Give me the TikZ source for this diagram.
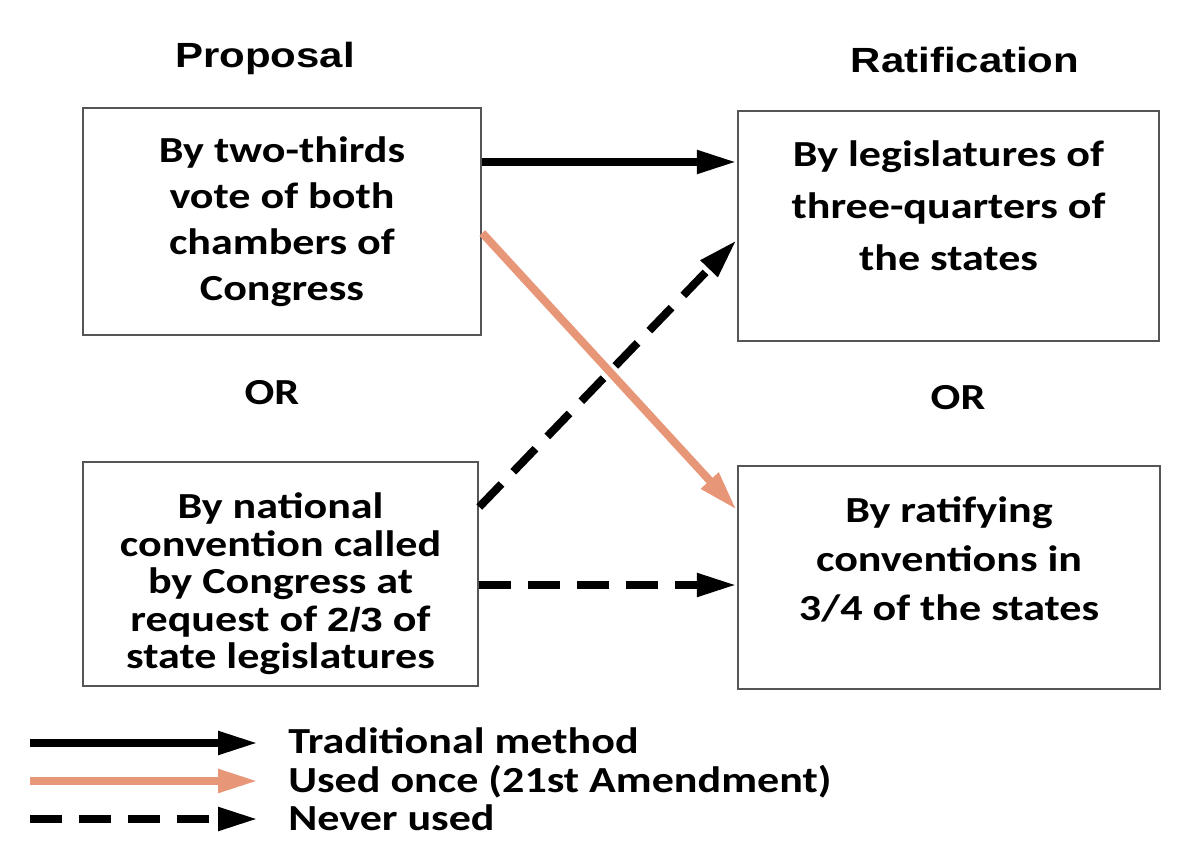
\documentclass[tikz,border=0pt]{standalone}
\usepackage{fontspec}
\usetikzlibrary{arrows.meta}
\newfontfamily\boxfont[FakeStretch=1.2]{Carlito}
\newfontfamily\headfont[FakeStretch=1.2]{Liberation Sans}
\definecolor{salmon}{RGB}{232,150,120}
\definecolor{boxgray}{RGB}{85,85,85}
\begin{document}
\begin{tikzpicture}[
  box/.style={draw=boxgray, line width=0.05cm, inner sep=0pt},
  boxtext/.style={font=\boxfont\bfseries\fontsize{20.9}{#1}\selectfont, align=center, inner sep=0pt},
  head/.style={font=\headfont\bfseries\fontsize{19.9}{24}\selectfont, inner sep=0pt},
  legtext/.style={font=\boxfont\bfseries\fontsize{20.9}{25}\selectfont, inner sep=0pt},
  trad/.style={line width=0.16cm, -{Triangle[length=0.8cm,width=0.44cm]}},
  once/.style={trad, salmon},
  never/.style={trad, dash pattern=on 0.64cm off 0.34cm}]
\fill[white] (0,0) rectangle (24,17.12);

\node[head, anchor=base] (proposal) at (5.3,15.76) {Proposal};
\node[head, anchor=base] (ratification) at (19.3,15.66) {Ratification};

\node[box, minimum width=7.96cm, minimum height=4.54cm] (propcong) at (5.64,12.69) {};
\node[boxtext=26.2] (propcongtext) at (propcong.center) {By two-thirds\\vote of both\\chambers of\\Congress};
\node[box, minimum width=7.9cm, minimum height=4.48cm] (propconv) at (5.61,5.64) {};
\node[boxtext=21.3] (propconvtext) at ([yshift=-0.2cm]propconv.center) {By national\\convention called\\by Congress at\\request of {\headfont\bfseries\fontsize{19}{21.3}\selectfont 2/3} of\\state legislatures};
\node[box, minimum width=8.42cm, minimum height=4.6cm] (ratleg) at (18.97,12.6) {};
\node[boxtext=29.6] (ratlegtext) at ([yshift=0.4cm]ratleg.center) {By legislatures of\\three-quarters of\\the states};
\node[box, minimum width=8.44cm, minimum height=4.46cm] (ratconv) at (18.98,5.57) {};
\node[boxtext=27.9] (ratconvtext) at ([yshift=0.37cm]ratconv.center) {By ratifying\\conventions in\\3/4 of the states};

\node[legtext, anchor=base] (orprop) at (5.44,9.02) {OR};
\node[legtext, anchor=base] (orrat) at (19.16,8.92) {OR};

\draw[trad] ([yshift=1.19cm]propcong.east) -- ([yshift=1.19cm]propcong.east -| ratleg.west);
\draw[once] ([yshift=-0.23cm]propcong.east) -- ([yshift=1.35cm]ratconv.west);
\draw[never] ([yshift=1.34cm]propconv.east) -- ([yshift=-0.28cm]ratleg.west);
\draw[never] ([yshift=-0.22cm]propconv.east) -- ([yshift=-0.22cm]propconv.east -| ratconv.west);

\node[legtext, anchor=base west] (legtrad) at (5.76,2.06) {Traditional method};
\node[legtext, anchor=base west] (legonce) at (5.76,1.28) {Used once (21st Amendment)};
\node[legtext, anchor=base west] (legnever) at (5.76,0.52) {Never used};
\coordinate (legtradstart) at (0.6,2.26);
\coordinate (legoncestart) at (0.6,1.5);
\coordinate (legneverstart) at (0.6,0.74);
\draw[trad] (legtradstart) -- (legtradstart -| legtrad.west) [shorten >=0.6cm];
\draw[once] (legoncestart) -- (legoncestart -| legonce.west) [shorten >=0.6cm];
\draw[never] (legneverstart) -- (legneverstart -| legnever.west) [shorten >=0.6cm];
\end{tikzpicture}
\end{document}
